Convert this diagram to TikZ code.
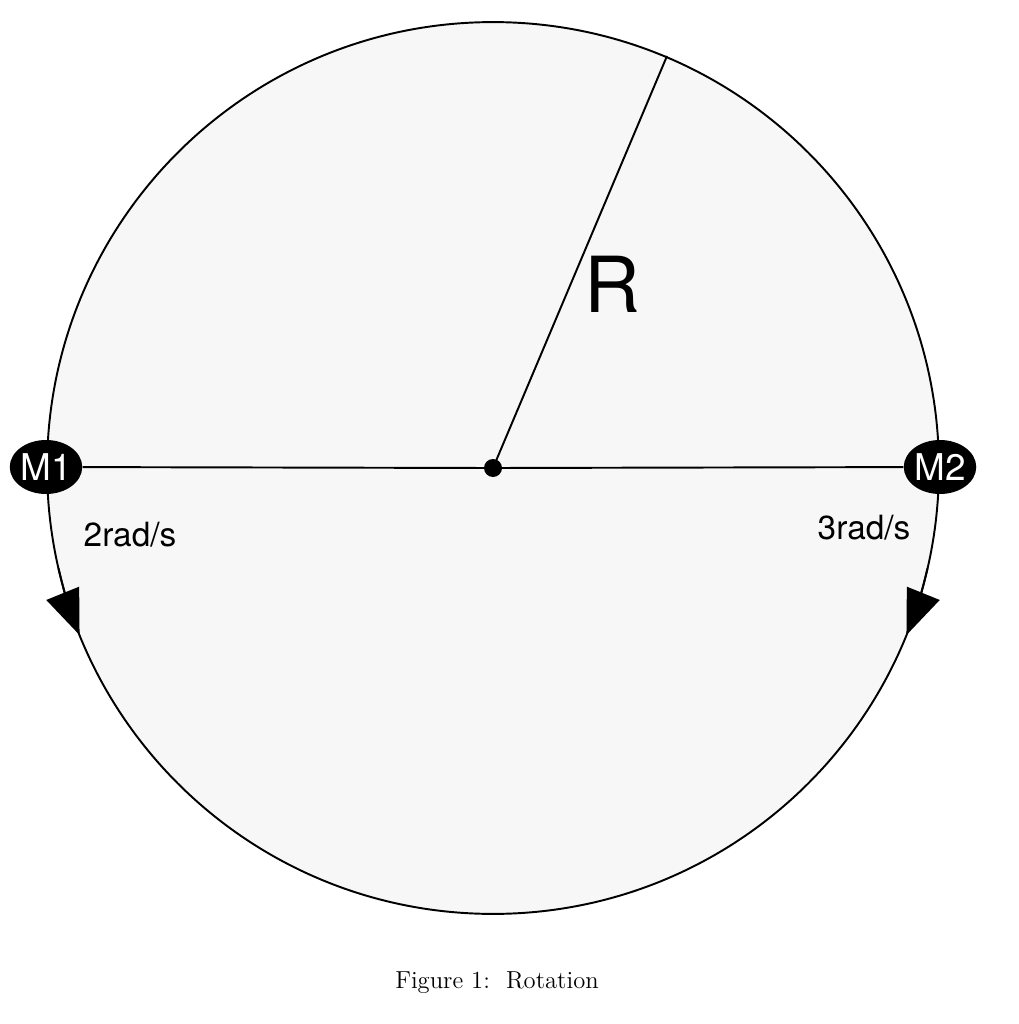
\documentclass[tikz,border=0pt]{standalone}
\usepackage{fontspec}
\newfontfamily\hv{TeX Gyre Heros}
\usetikzlibrary{arrows.meta,shapes.geometric}
\begin{document}
\begin{tikzpicture}[x=0.02cm,y=-0.02cm,
  mass/.style={ellipse,fill=black,text=white,inner sep=0pt,minimum width=62*0.02cm,minimum height=54*0.02cm,font=\hv\fontsize{21}{21}\selectfont},
  lbl/.style={font=\hv\fontsize{19}{19}\selectfont},
  tipstyle/.style={-{Triangle[length=0.9cm,width=0.7cm]},line width=1.1pt}]
\useasboundingbox (0,0) rectangle (1018,1024);
\coordinate (c) at (493,468);
\filldraw[fill=black!3,line width=1.1pt] (c) circle (8.92cm);
\coordinate (top) at (667,56);
\node[mass] (m1) at (46,467) {M1};
\node[mass] (m2) at (940,467) {M2};
\draw[line width=1.1pt] (m1) -- (c) -- (m2);
\draw[line width=1.1pt] (c) -- (top);
\fill (c) circle (0.18cm);
\node[font=\hv\fontsize{44}{44}\selectfont] (r) at (612,284) {R};
\node[lbl] (w1) at (130,535) {2rad/s};
\node[lbl] (w2) at (864,528) {3rad/s};
\draw[tipstyle] (c) ++(193:8.92cm) arc (193:202:8.92cm);
\draw[tipstyle] (c) ++(-13:8.92cm) arc (-13:-22:8.92cm);
\node[font=\fontsize{14}{14}\selectfont] (cap) at (497,983) {Figure 1:\ \ Rotation};
\end{tikzpicture}
\end{document}
